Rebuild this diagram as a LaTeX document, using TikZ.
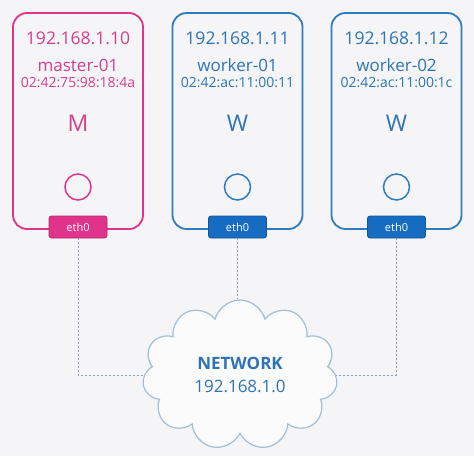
\documentclass[tikz,border=0pt]{standalone}
\usepackage{fontspec}
\setmainfont{Open Sans}
\usetikzlibrary{shapes.symbols, positioning}
\definecolor{mypink}{RGB}{224,51,138}
\definecolor{mypinktxt}{RGB}{214,62,140}
\definecolor{myblue}{RGB}{47,123,191}
\definecolor{mybluetxt}{RGB}{46,116,181}
\definecolor{ethblue}{RGB}{22,108,192}
\definecolor{cloudline}{RGB}{160,190,215}
\definecolor{linkgray}{RGB}{140,160,185}
\definecolor{bgray}{RGB}{245,245,247}
\tikzset{
  hostbox/.style={rectangle, draw=#1, fill=bgray, line width=1.8pt,
    rounded corners=14pt, minimum width=130pt, minimum height=216pt},
  ethbox/.style={rectangle, draw=#1!80!black, fill=#1, text=white,
    rounded corners=2.5pt, minimum width=58pt, minimum height=22pt,
    inner sep=0pt, line width=0.8pt, font=\fontsize{11}{12}\selectfont},
  iptext/.style={font=\fontsize{17.5}{20}\selectfont, inner sep=0pt},
  nametext/.style={font=\fontsize{17}{20}\selectfont, inner sep=0pt},
  mactext/.style={font=\fontsize{14}{16}\selectfont, inner sep=0pt},
  roletext/.style={font=\fontsize{23}{26}\selectfont, inner sep=0pt},
  nic/.style={circle, draw=#1, line width=1.5pt, minimum size=26pt, inner sep=0pt},
  netcloud/.style={cloud, cloud puffs=11, aspect=1.3, draw=cloudline,
    fill=white!60!bgray, line width=1.2pt, minimum width=195pt,
    minimum height=150pt, align=center, text=mybluetxt,
    font=\fontsize{17}{23}\selectfont},
  netlink/.style={color=linkgray, line width=0.8pt, dash pattern=on 2pt off 2pt}
}

\begin{document}
\begin{tikzpicture}[x=1pt, y=-1pt]
  % Background
  \fill[bgray] (0,0) rectangle (474,456);
  \useasboundingbox (0,0) rectangle (474,456);

  % Hosts
  \foreach \n/\x/\col/\tcol/\ecol/\ip/\hn/\mac/\ltr in {
      m/78/mypink/mypinktxt/mypink/192.168.1.10/master-01/02:42:75:98:18:4a/M,
      a/237.5/myblue/mybluetxt/ethblue/192.168.1.11/worker-01/02:42:ac:11:00:11/W,
      b/396.5/myblue/mybluetxt/ethblue/192.168.1.12/worker-02/02:42:ac:11:00:1c/W} {
    \node[hostbox=\col] (host\n) at (\x,121) {};
    \node[iptext, text=\tcol] (ip\n) at (\x,38) {\ip};
    \node[nametext, text=\tcol] (name\n) at (\x,65) {\hn};
    \node[mactext, text=\tcol] (mac\n) at (\x,83) {\mac};
    \node[roletext, text=\tcol] (role\n) at (\x,123) {\ltr};
    \node[nic=\col] (nic\n) at (\x,187) {};
    \node[ethbox=\ecol] (eth\n) at (\x,227) {eth0};
  }

  % Network cloud
  \node[netcloud] (net) at (240,375) {\textbf{NETWORK}\\192.168.1.0};

  % Links
  \draw[netlink] (ethm.south) |- (net.west);
  \draw[netlink] (etha.south) -- (etha.south |- net.north);
  \draw[netlink] (ethb.south) |- (net.east);
\end{tikzpicture}
\end{document}
